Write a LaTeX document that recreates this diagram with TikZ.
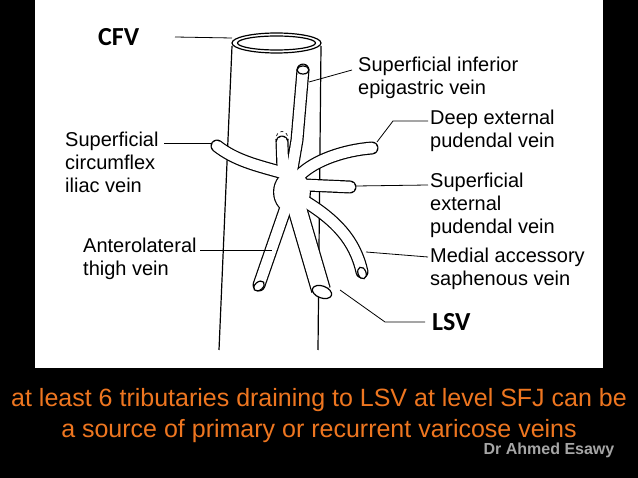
\documentclass[tikz,border=0pt]{standalone}
\usepackage{fontspec}
\setmainfont{Liberation Sans}
\newfontfamily\calib{Carlito}
\definecolor{orng}{RGB}{238,118,32}
\begin{document}
\begin{tikzpicture}[x=1pt,y=-1pt,
  lbl/.style={anchor=north west,align=left,font=\fontsize{20}{23}\selectfont,inner sep=0pt},
  bold/.style={font=\calib\bfseries\fontsize{26}{26}\selectfont,inner sep=0pt},
  lead/.style={line width=0.8pt},
  outl/.style={line width=1.2pt},
  tb/.style={line width=13pt,line cap=round},
  tw/.style={line width=10.6pt,white,line cap=round},
  lb/.style={line width=20pt},
  lw/.style={line width=17.6pt,white}]
\fill[black] (0,0) rectangle (638,478);
\fill[white] (35,0) rectangle (603,368);
% CFV cylinder
\draw[outl] (232,46) -- (219,350);
\draw[outl] (321,46) -- (318,350);
\draw[outl] (276.5,43) ellipse (44.5 and 10);
\draw[outl] (276.5,43) ellipse (39 and 7);
% tubes: black layer
\fill[black] (292,192) ellipse (19 and 22);
\draw[tb] (303,70) -- (297,140) -- (291,175);
\draw[tb] (217,146) .. controls (235,160) and (255,165) .. (280,172);
\draw[tb] (282,142) -- (283,170);
\draw[tb] (372,148) .. controls (345,150) and (315,160) .. (300,175);
\draw[tb] (350,187) -- (305,185);
\draw[tb] (362,272) .. controls (355,240) and (335,220) .. (306,202);
\draw[tb] (259,285) -- (285,210);
\draw[lb] (321,290) -- (297,208);
% white layer
\fill[white] (292,192) ellipse (17.8 and 20.8);
\draw[tw] (303,70) -- (297,140) -- (291,175);
\draw[tw] (217,146) .. controls (235,160) and (255,165) .. (280,172);
\draw[tw] (282,142) -- (283,170);
\draw[tw] (372,148) .. controls (345,150) and (315,160) .. (300,175);
\draw[tw] (350,187) -- (305,185);
\draw[tw] (362,272) .. controls (355,240) and (335,220) .. (306,202);
\draw[tw] (259,285) -- (285,210);
\draw[lw] (321,290) -- (297,208);
% ends
\draw[outl,fill=white] (303,70) ellipse (6 and 4);
\draw[outl,fill=white,rotate around={40:(259,286)}] (259,286) ellipse (6 and 4);
\draw[outl,fill=white,rotate around={-70:(362,273)}] (362,273) ellipse (6 and 4);
\draw[outl,fill=white,rotate around={-20:(322,292)}] (322,292) ellipse (10 and 6);
\draw[dashed,line width=0.7pt] (276,142) .. controls (274,128) and (290,128) .. (288,142);
% leaders and labels
\node[bold,anchor=west] (cfv) at (98,37) {CFV};
\draw[lead] (175,37) -- (232,38);
\node[lbl] (sie) at (358,57) {Superficial inferior\\epigastric vein};
\draw[lead] (352,70) -- (309,82);
\node[lbl] (dep) at (430,110) {Deep external\\pudendal vein};
\draw[lead] (428,121) -- (393,121) -- (377,142);
\node[lbl] (sep) at (430,173) {Superficial\\external\\pudendal vein};
\draw[lead] (428,185) -- (356,186);
\node[lbl] (mas) at (430,248) {Medial accessory\\saphenous vein};
\draw[lead] (428,257) -- (366,252);
\node[bold,anchor=west] (lsv) at (432,322) {LSV};
\draw[lead] (425,322) -- (385,322) -- (340,290);
\node[lbl] (sci) at (65,132) {Superficial\\circumflex\\iliac vein};
\draw[lead] (164,143) -- (212,143);
\node[lbl] (atv) at (83,238) {Anterolateral\\thigh vein};
\draw[lead] (200,250) -- (272,250);
% caption
\node[text=orng,font=\fontsize{25}{31}\selectfont,align=center] (cap) at (319,416) {at least 6 tributaries draining to LSV at level SFJ can be\\a source of primary or recurrent varicose veins};
\node[text=gray!70,font=\bfseries\fontsize{16}{18}\selectfont] (dr) at (549,450) {Dr Ahmed  Esawy};
\end{tikzpicture}
\end{document}
